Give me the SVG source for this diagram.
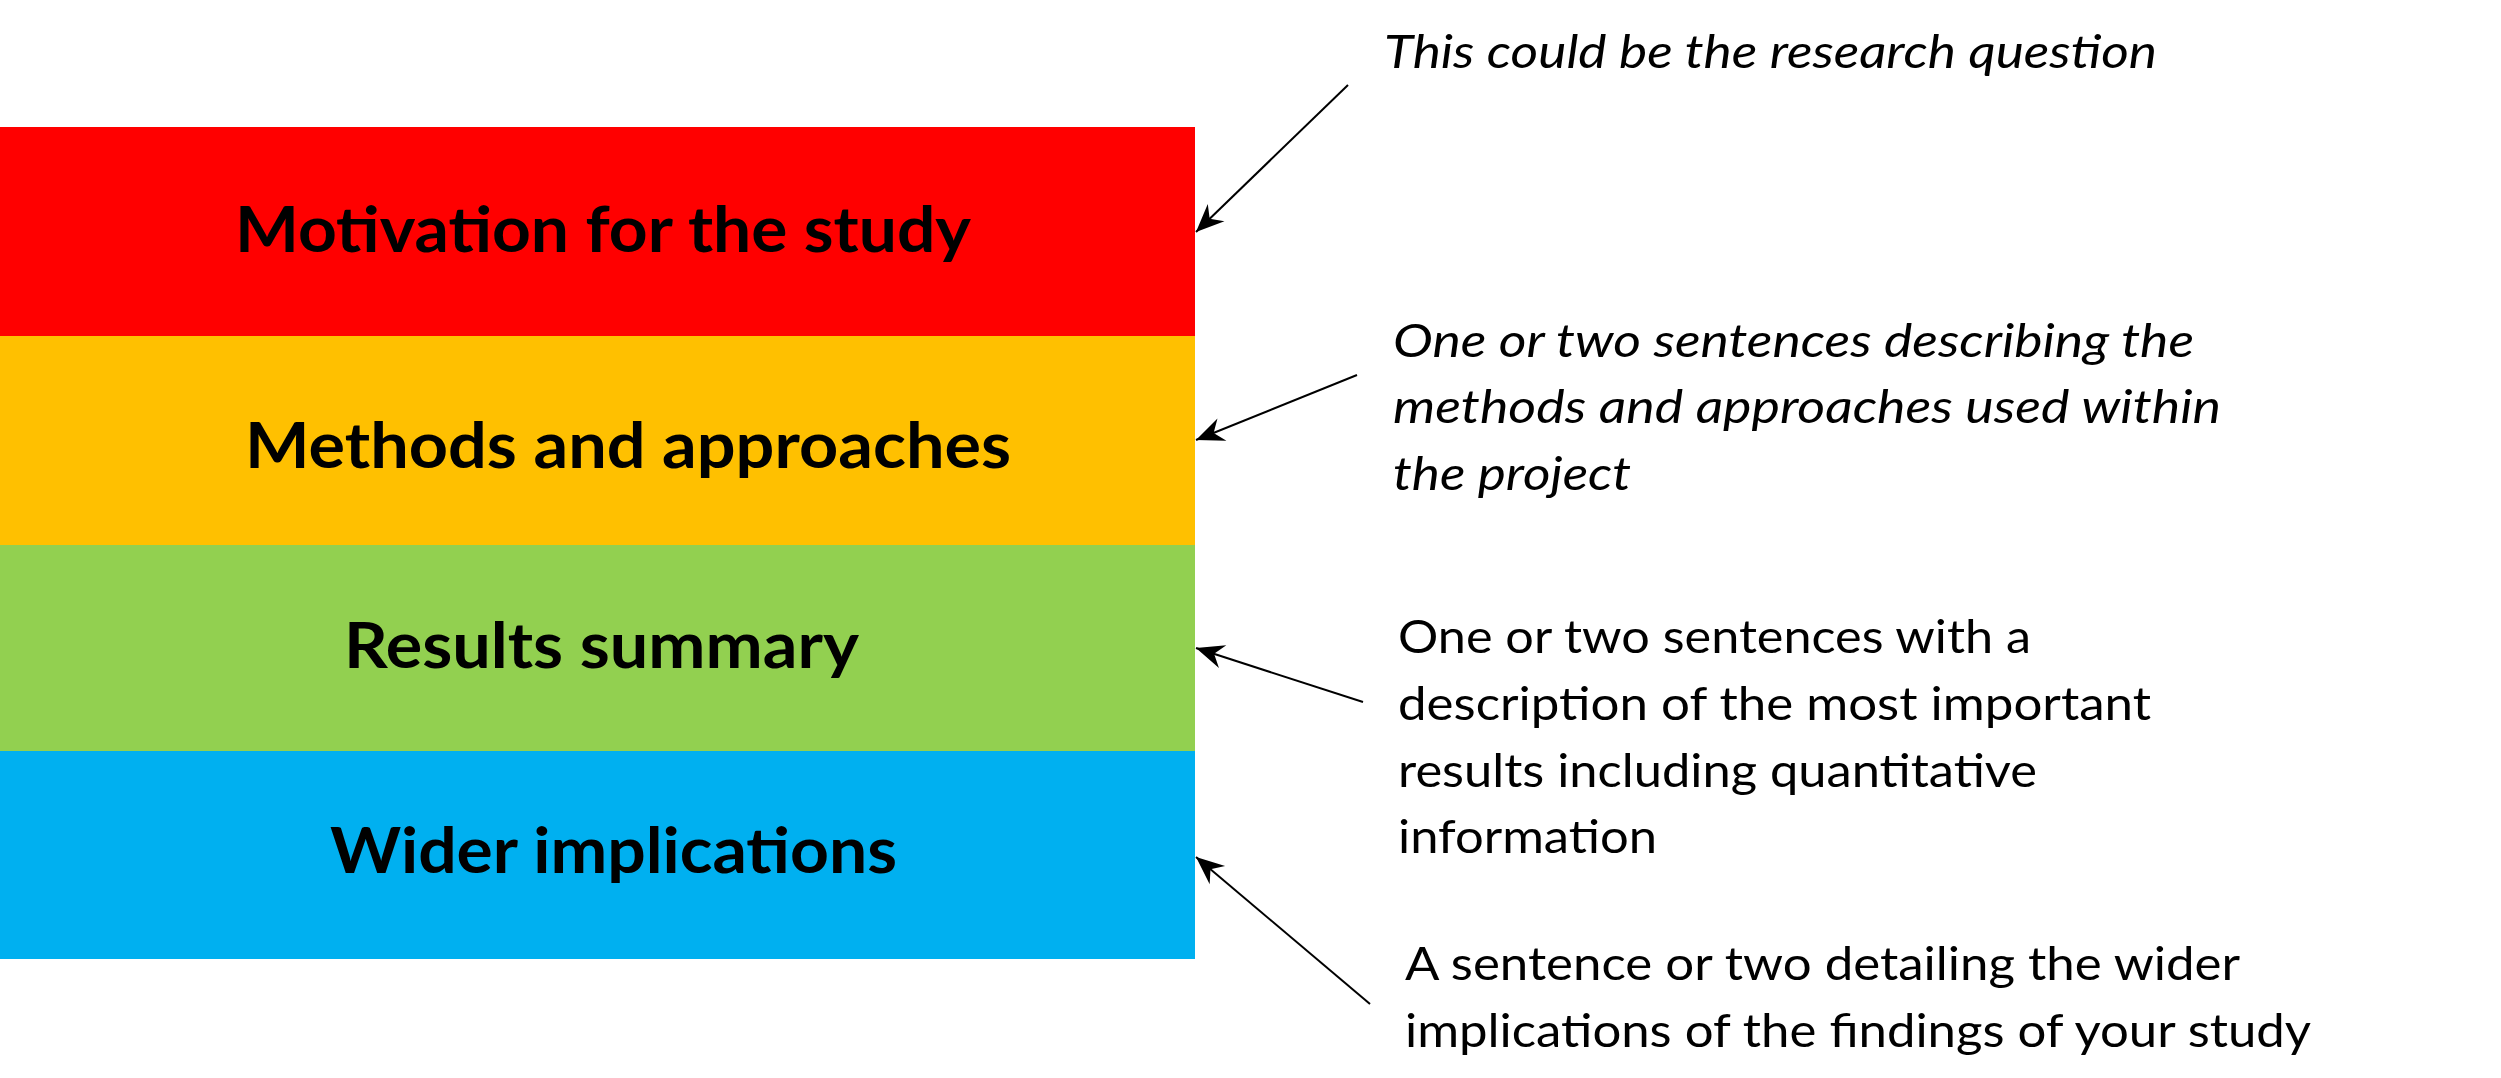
<svg xmlns="http://www.w3.org/2000/svg" width="2501" height="1078" viewBox="0 0 2501 1078">
<defs>
<style>
.label{font-family:Lato,"Open Sans","Liberation Sans",sans-serif;font-weight:bold;font-size:64px;fill:#000}
.note{font-family:Lato,"Open Sans","Liberation Sans",sans-serif;font-size:46px;fill:#000}
.it{font-style:italic}
.conn{stroke:#000;stroke-width:2;fill:none;marker-end:url(#arrow)}
</style>
<marker id="arrow" markerUnits="userSpaceOnUse" viewBox="-30 -15 32 30" markerWidth="32" markerHeight="30" refX="0" refY="0" orient="auto">
<path d="M0,0 L-28,-12 L-19,0 L-28,12 Z" fill="#000"/>
</marker>
</defs>
<rect width="2501" height="1078" fill="#fff"/>
<g id="motivation">
<rect x="0" y="127" width="1195" height="209" fill="#FF0000"/>
<text class="label" x="235" y="252" textLength="736" lengthAdjust="spacingAndGlyphs">Motivation for the study</text>
</g>
<g id="methods">
<rect x="0" y="336" width="1195" height="209" fill="#FFC000"/>
<text class="label" x="245" y="468" textLength="766" lengthAdjust="spacingAndGlyphs">Methods and approaches</text>
</g>
<g id="results">
<rect x="0" y="545" width="1195" height="206" fill="#92D050"/>
<text class="label" x="344" y="668" textLength="515" lengthAdjust="spacingAndGlyphs">Results summary</text>
</g>
<g id="implications">
<rect x="0" y="751" width="1195" height="208" fill="#00B0F0"/>
<text class="label" x="330" y="873" textLength="567" lengthAdjust="spacingAndGlyphs">Wider implications</text>
</g>
<g id="note-question">
<text class="note it" x="1384" y="68" textLength="773" lengthAdjust="spacingAndGlyphs">This could be the research question</text>
</g>
<g id="note-methods">
<text class="note it" x="1393" y="357" textLength="801" lengthAdjust="spacingAndGlyphs">One or two sentences describing the</text>
<text class="note it" x="1393" y="423" textLength="828" lengthAdjust="spacingAndGlyphs">methods and approaches used within</text>
<text class="note it" x="1393" y="490" textLength="238" lengthAdjust="spacingAndGlyphs">the project</text>
</g>
<g id="note-results">
<text class="note" x="1398" y="653" textLength="633" lengthAdjust="spacingAndGlyphs">One or two sentences with a</text>
<text class="note" x="1398" y="720" textLength="753" lengthAdjust="spacingAndGlyphs">description of the most important</text>
<text class="note" x="1398" y="787" textLength="639" lengthAdjust="spacingAndGlyphs">results including quantitative</text>
<text class="note" x="1398" y="853" textLength="259" lengthAdjust="spacingAndGlyphs">information</text>
</g>
<g id="note-implications">
<text class="note" x="1405" y="980" textLength="835" lengthAdjust="spacingAndGlyphs">A sentence or two detailing the wider</text>
<text class="note" x="1405" y="1047" textLength="906" lengthAdjust="spacingAndGlyphs">implications of the findings of your study</text>
</g>
<g id="connectors">
<line class="conn" x1="1348" y1="85" x2="1196" y2="232"/>
<line class="conn" x1="1357" y1="375" x2="1196" y2="440"/>
<line class="conn" x1="1363" y1="702" x2="1196" y2="648"/>
<line class="conn" x1="1370" y1="1004" x2="1196" y2="857"/>
</g>
</svg>
